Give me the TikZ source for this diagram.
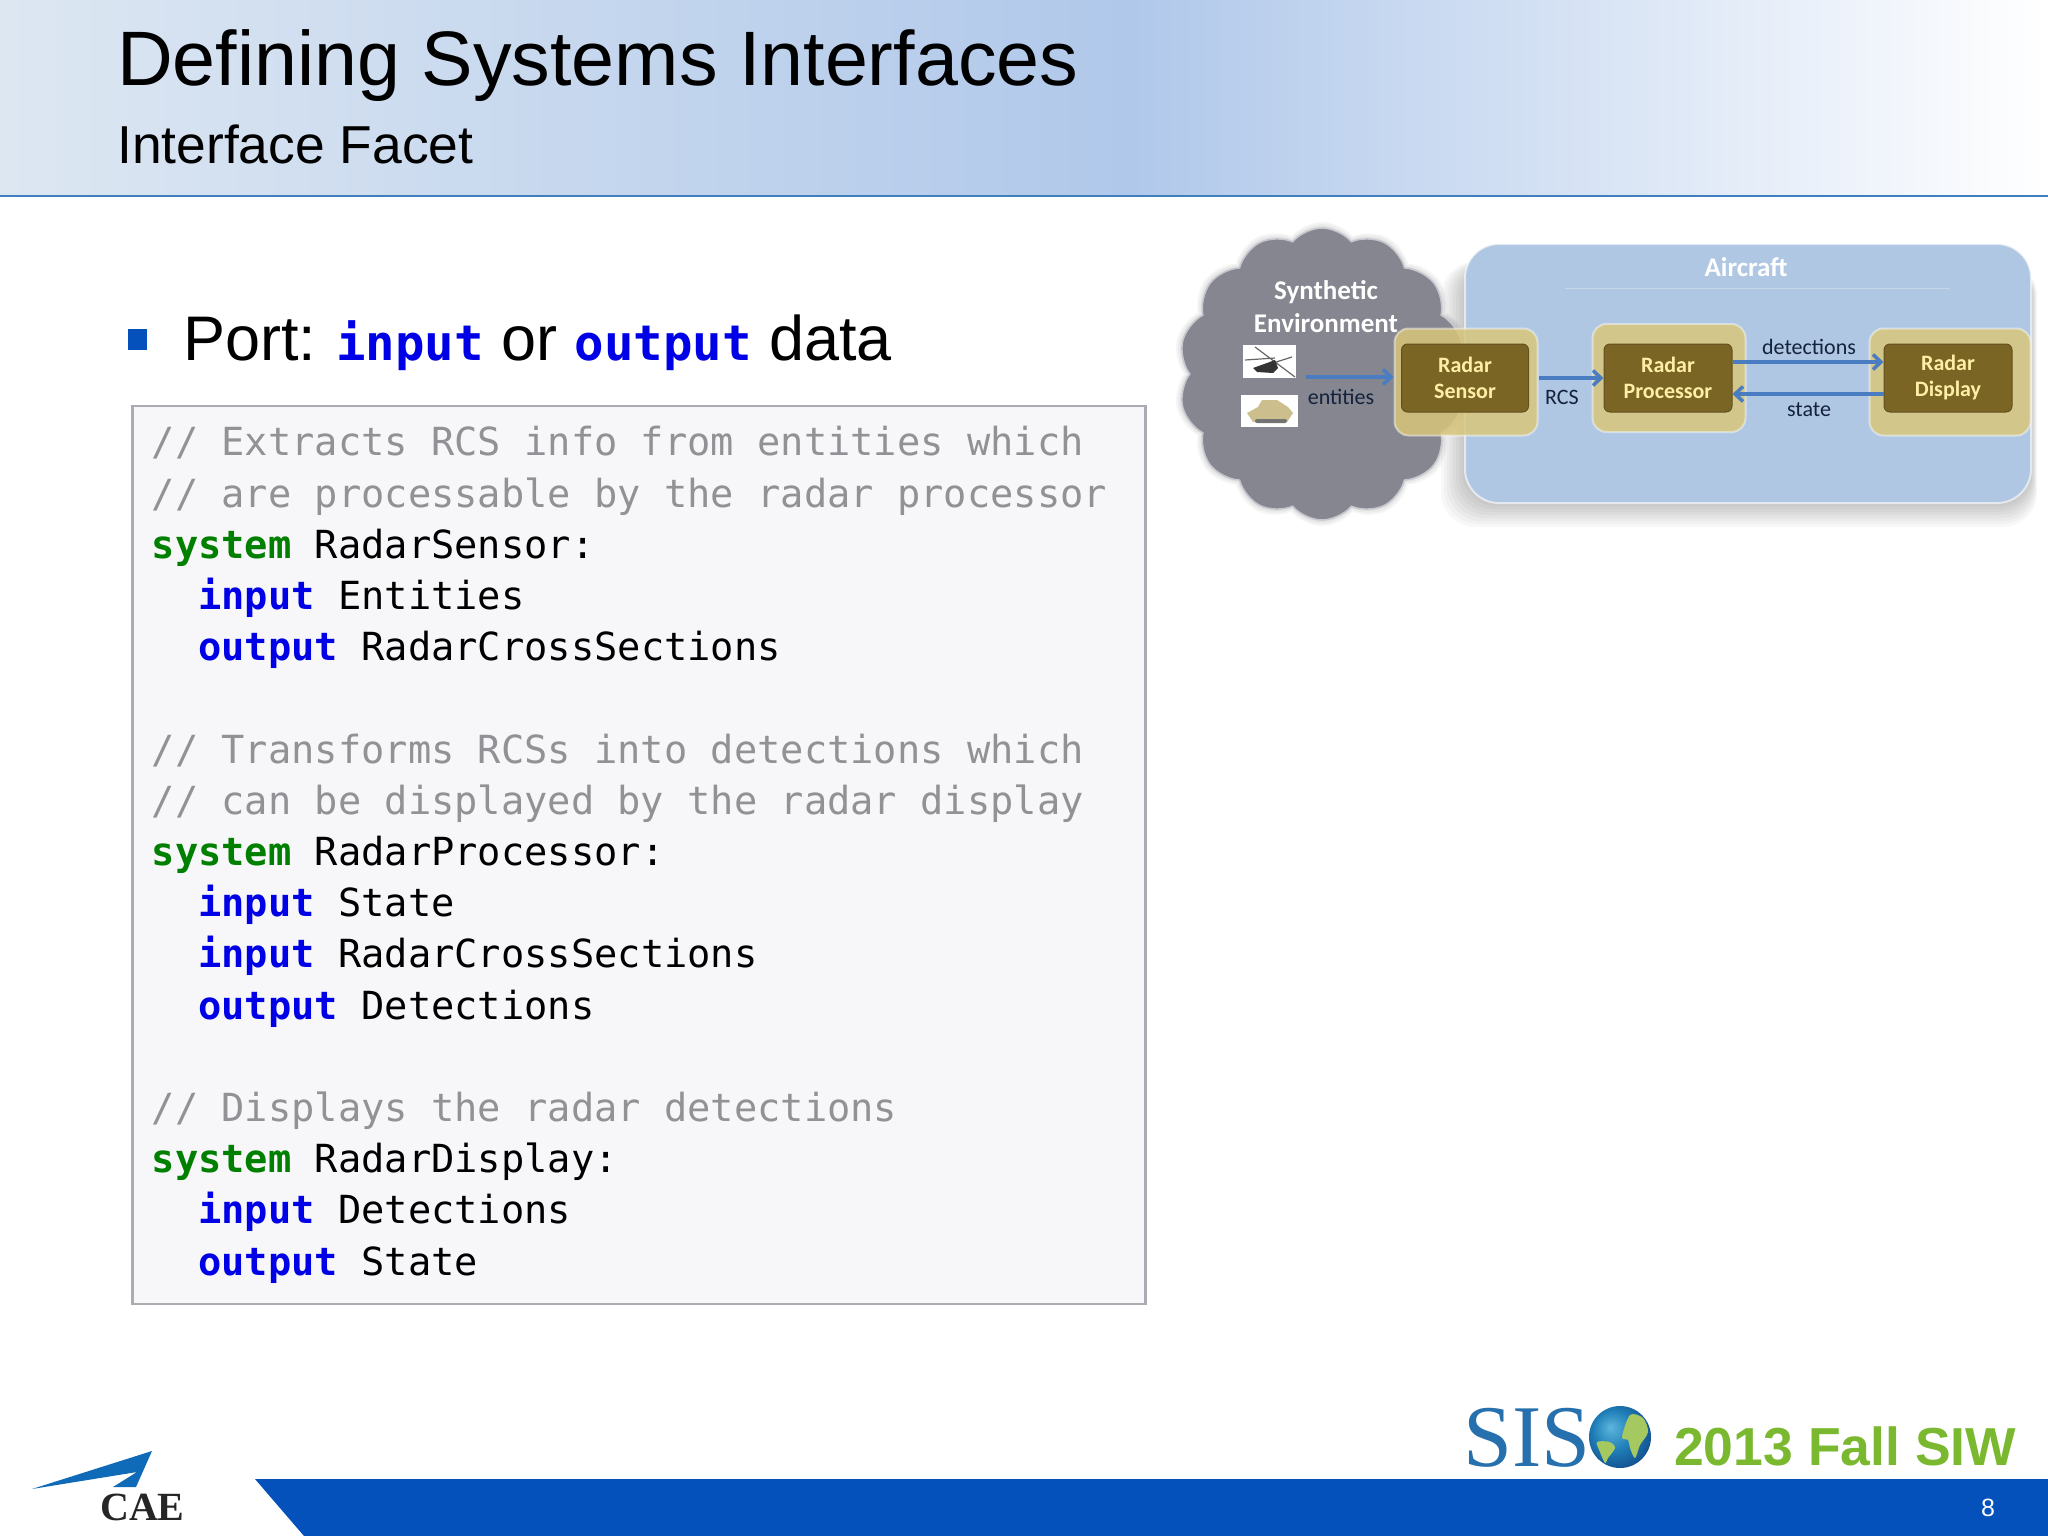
\documentclass[tikz,border=0pt]{standalone}
\usepackage{fontspec}
\setmainfont{Liberation Sans}
\setmonofont{DejaVu Sans Mono}
\newfontfamily\calfont{Carlito}
\newfontfamily\serfont{Liberation Serif}
\usetikzlibrary{shapes.symbols,arrows.meta}
\definecolor{barblue}{HTML}{0451BB}
\definecolor{headmid}{HTML}{B0C8EA}
\definecolor{headleft}{HTML}{DDE7F2}
\definecolor{headline}{HTML}{3F7FC0}
\definecolor{kwblue}{HTML}{0000E6}
\definecolor{kwgreen}{HTML}{007F00}
\definecolor{cmtgray}{HTML}{929296}
\definecolor{codefill}{HTML}{F7F7F9}
\definecolor{codeline}{HTML}{ABABB3}
\definecolor{sisgreen}{HTML}{7AB92F}
\definecolor{sisblue}{HTML}{2670AD}
\definecolor{acblue}{HTML}{B0C7E3}
\definecolor{pipeblue}{HTML}{4A7CC2}
\definecolor{outergold}{HTML}{D8C67C}
\definecolor{innergold}{HTML}{7A6524}
\definecolor{palegold}{HTML}{FFEFA6}
\definecolor{labelblue}{HTML}{14233C}
\definecolor{cloudgray}{HTML}{85868F}
\definecolor{cloudedge}{HTML}{C6C7CE}
\definecolor{wingblue}{HTML}{0F6BB8}
\definecolor{landgreen}{HTML}{A6C860}
\definecolor{tankbuff}{HTML}{CDBE8E}
\definecolor{oceantop}{HTML}{5DB5DC}
\definecolor{oceanmid}{HTML}{1F7FB8}
\definecolor{oceanlow}{HTML}{14508F}
\pgfdeclareradialshading{globeshade}{\pgfpoint{-8bp}{8bp}}{color(0bp)=(oceantop);color(16bp)=(oceanmid);color(30bp)=(oceanlow);color(50bp)=(oceanlow)}
\newcommand{\kwsys}{\textcolor{kwgreen}{\bfseries system}}
\newcommand{\kwin}{\textcolor{kwblue}{\bfseries input}}
\newcommand{\kwout}{\textcolor{kwblue}{\bfseries output}}
\newcommand{\cmt}[1]{\textcolor{cmtgray}{// #1}}
\tikzset{
  txt/.style={inner sep=0pt,anchor=base west},
  outerbox/.style={rounded corners=14pt,fill=outergold,fill opacity=.85,draw=white,draw opacity=.45,line width=2pt},
  innerbox/.style={rounded corners=6pt,fill=innergold,draw=innergold!80!black,line width=1pt,text=palegold,align=center,
    font=\calfont\bfseries\fontsize{22}{26}\selectfont},
  pipe/.style={draw=pipeblue,line width=3.5pt,-{Straight Barb[length=8pt,width=15pt]}},
  plabel/.style={inner sep=0pt,text=labelblue,font=\calfont\fontsize{22}{26}\selectfont},
  wlabel/.style={inner sep=0pt,text=white,align=center,font=\calfont\bfseries\fontsize{27}{33}\selectfont},
  cloudbase/.style={cloud,cloud puffs=14,cloud puff arc=100,aspect=1,inner sep=0pt},
}
\begin{document}
\begin{tikzpicture}[x=1pt,y=-1pt]
\useasboundingbox (0,0) rectangle (2048,1536);
\fill[white] (0,0) rectangle (2048,1536);
% header
\shade[left color=headleft,right color=headmid] (0,0) rectangle (1130,196);
\shade[left color=headmid,right color=white] (1130,0) rectangle (2048,196);
\draw[headline,line width=1.5pt] (0,196) -- (2048,196);
\node[txt,font=\fontsize{77.2}{80}\selectfont] (title) at (117,86) {Defining Systems Interfaces};
\node[txt,font=\fontsize{53.4}{60}\selectfont] (subtitle) at (117,164) {Interface Facet};
% bullet
\fill[barblue] (128,329) rectangle (147,350);
\node[txt,font=\fontsize{63}{70}\selectfont] (port) at (183,360)
  {Port:\hspace{20pt}{\ttfamily\fontsize{49}{70}\selectfont\kwin} or {\ttfamily\fontsize{49}{70}\selectfont\kwout} data};
% code
\node[anchor=north west,draw=codeline,fill=codefill,line width=2.5pt,minimum height=898pt,
  inner xsep=19.5pt,inner ysep=0pt,align=left,font=\ttfamily\fontsize{38.7}{51.2}\selectfont] (code) at (131,404.5) {%
\cmt{Extracts RCS info from entities which}\\
\cmt{are processable by the radar processor}\\
\kwsys{} RadarSensor:\\
\ \ \kwin{} Entities\\
\ \ \kwout{} RadarCrossSections\\
\rule{974pt}{0pt}\\
\cmt{Transforms RCSs into detections which}\\
\cmt{can be displayed by the radar display}\\
\kwsys{} RadarProcessor:\\
\ \ \kwin{} State\\
\ \ \kwin{} RadarCrossSections\\
\ \ \kwout{} Detections\\
\mbox{}\\
\cmt{Displays the radar detections}\\
\kwsys{} RadarDisplay:\\
\ \ \kwin{} Detections\\
\ \ \kwout{} State};
% aircraft and environment
\foreach \s in {3,6,...,24}
  \fill[black,opacity=.028,rounded corners=34pt] (1465-\s,262) rectangle (2031+\s/4,503+\s);
\foreach \s in {304,300,296}
  \node[cloudbase,minimum width=\s pt-6pt,minimum height=\s pt,fill=black,opacity=.04] (halo\s) at (1322,374) {};
\node[cloudbase,minimum width=286pt,minimum height=292pt,fill=cloudgray,draw=cloudedge,line width=1.5pt] (env) at (1322,374) {};
\fill[acblue,draw=white,draw opacity=.6,line width=2pt,rounded corners=34pt] (1465,244) rectangle (2031,503);
\draw[white,opacity=.3,line width=.8pt] (1565,288) -- (1950,288);
\node[wlabel] (aircraft) at (1746,267) {Aircraft};
\node[wlabel] (envlabel) at (1326,307) {Synthetic\\Environment};
% blocks
\node[outerbox,minimum width=143pt,minimum height=107pt] (sensorbg) at (1466,382) {};
\node[outerbox,minimum width=153pt,minimum height=108pt] (procbg) at (1669,378) {};
\node[outerbox,minimum width=161pt,minimum height=107pt] (displaybg) at (1950,382) {};
\node[innerbox,minimum width=127pt,minimum height=68pt] (sensor) at (1465,378) {Radar\\Sensor};
\node[innerbox,minimum width=128pt,minimum height=68pt] (proc) at (1668,378) {Radar\\Processor};
\node[innerbox,minimum width=128pt,minimum height=68pt] (display) at (1948,378) {Radar\\Display};
% helicopter
\node[fill=white,minimum width=53pt,minimum height=33pt,inner sep=0pt] (heli) at (1269.5,361.5) {};
\draw[black!60,line width=1.2pt] (1255,347) -- (1295,377) (1245,360) -- (1275,358) (1273,363) -- (1292,357);
\fill[black!80] (1253,368) -- (1267,363) -- (1275,360) -- (1278,368) -- (1273,373) -- (1257,372) -- cycle;
% tank
\node[fill=white,minimum width=57pt,minimum height=32pt,inner sep=0pt] (tank) at (1269.5,411) {};
\fill[tankbuff] (1247,413) -- (1258,407) -- (1262,400) -- (1277,400) -- (1288,407) -- (1293,413) -- (1287,422) -- (1253,422) -- cycle;
\fill[black!55,rounded corners=2pt] (1255,419) rectangle (1287,423);
% connectors
\coordinate (entfrom) at (1306,377);
\draw[pipe] (entfrom) -- (sensorbg.west |- entfrom);
\draw[pipe] (sensorbg.east |- sensor.east) -- (proc.west);
\draw[pipe] ([yshift=16pt]proc.east) -- ([yshift=16pt]display.west);
\draw[pipe] ([yshift=-16pt]display.west) -- ([yshift=-16pt]proc.east);
\node[plabel] (entities) at (1341,397) {entities};
\node[plabel] (rcs) at (1562,397) {RCS};
\node[plabel] (detections) at (1809,347) {detections};
\node[plabel] (state) at (1809,410) {state};
% footer
\fill[barblue] (255,1479) -- (2048,1479) -- (2048,1536) -- (304,1536) -- cycle;
\fill[wingblue] (152,1451) -- (32,1489) -- (137,1472) -- (113,1487) -- (136,1487) -- cycle;
\node[txt,font=\serfont\bfseries\fontsize{40}{44}\selectfont,text=black!85] (cae) at (100,1520) {CAE};
\node[txt,font=\serfont\fontsize{88}{90}\selectfont,text=sisblue] (sis) at (1463,1466) {SIS};
\node[circle,minimum size=62pt,inner sep=0pt,shading=globeshade] (globe) at (1620,1437) {};
\fill[landgreen] plot[smooth cycle] coordinates {(1622,1437) (1630,1415) (1643,1418) (1648,1432) (1640,1445) (1635,1458) (1630,1448) (1628,1440)};
\fill[landgreen] plot[smooth cycle] coordinates {(1597,1442) (1610,1442) (1615,1448) (1608,1458) (1605,1463) (1600,1452)};
\node[txt,font=\bfseries\fontsize{53.5}{60}\selectfont,text=sisgreen] (siw) at (1674,1465) {2013 Fall SIW};
\node[inner sep=0pt,text=white,font=\fontsize{25}{30}\selectfont] (pagenum) at (1988,1508) {8};
\end{tikzpicture}
\end{document}
